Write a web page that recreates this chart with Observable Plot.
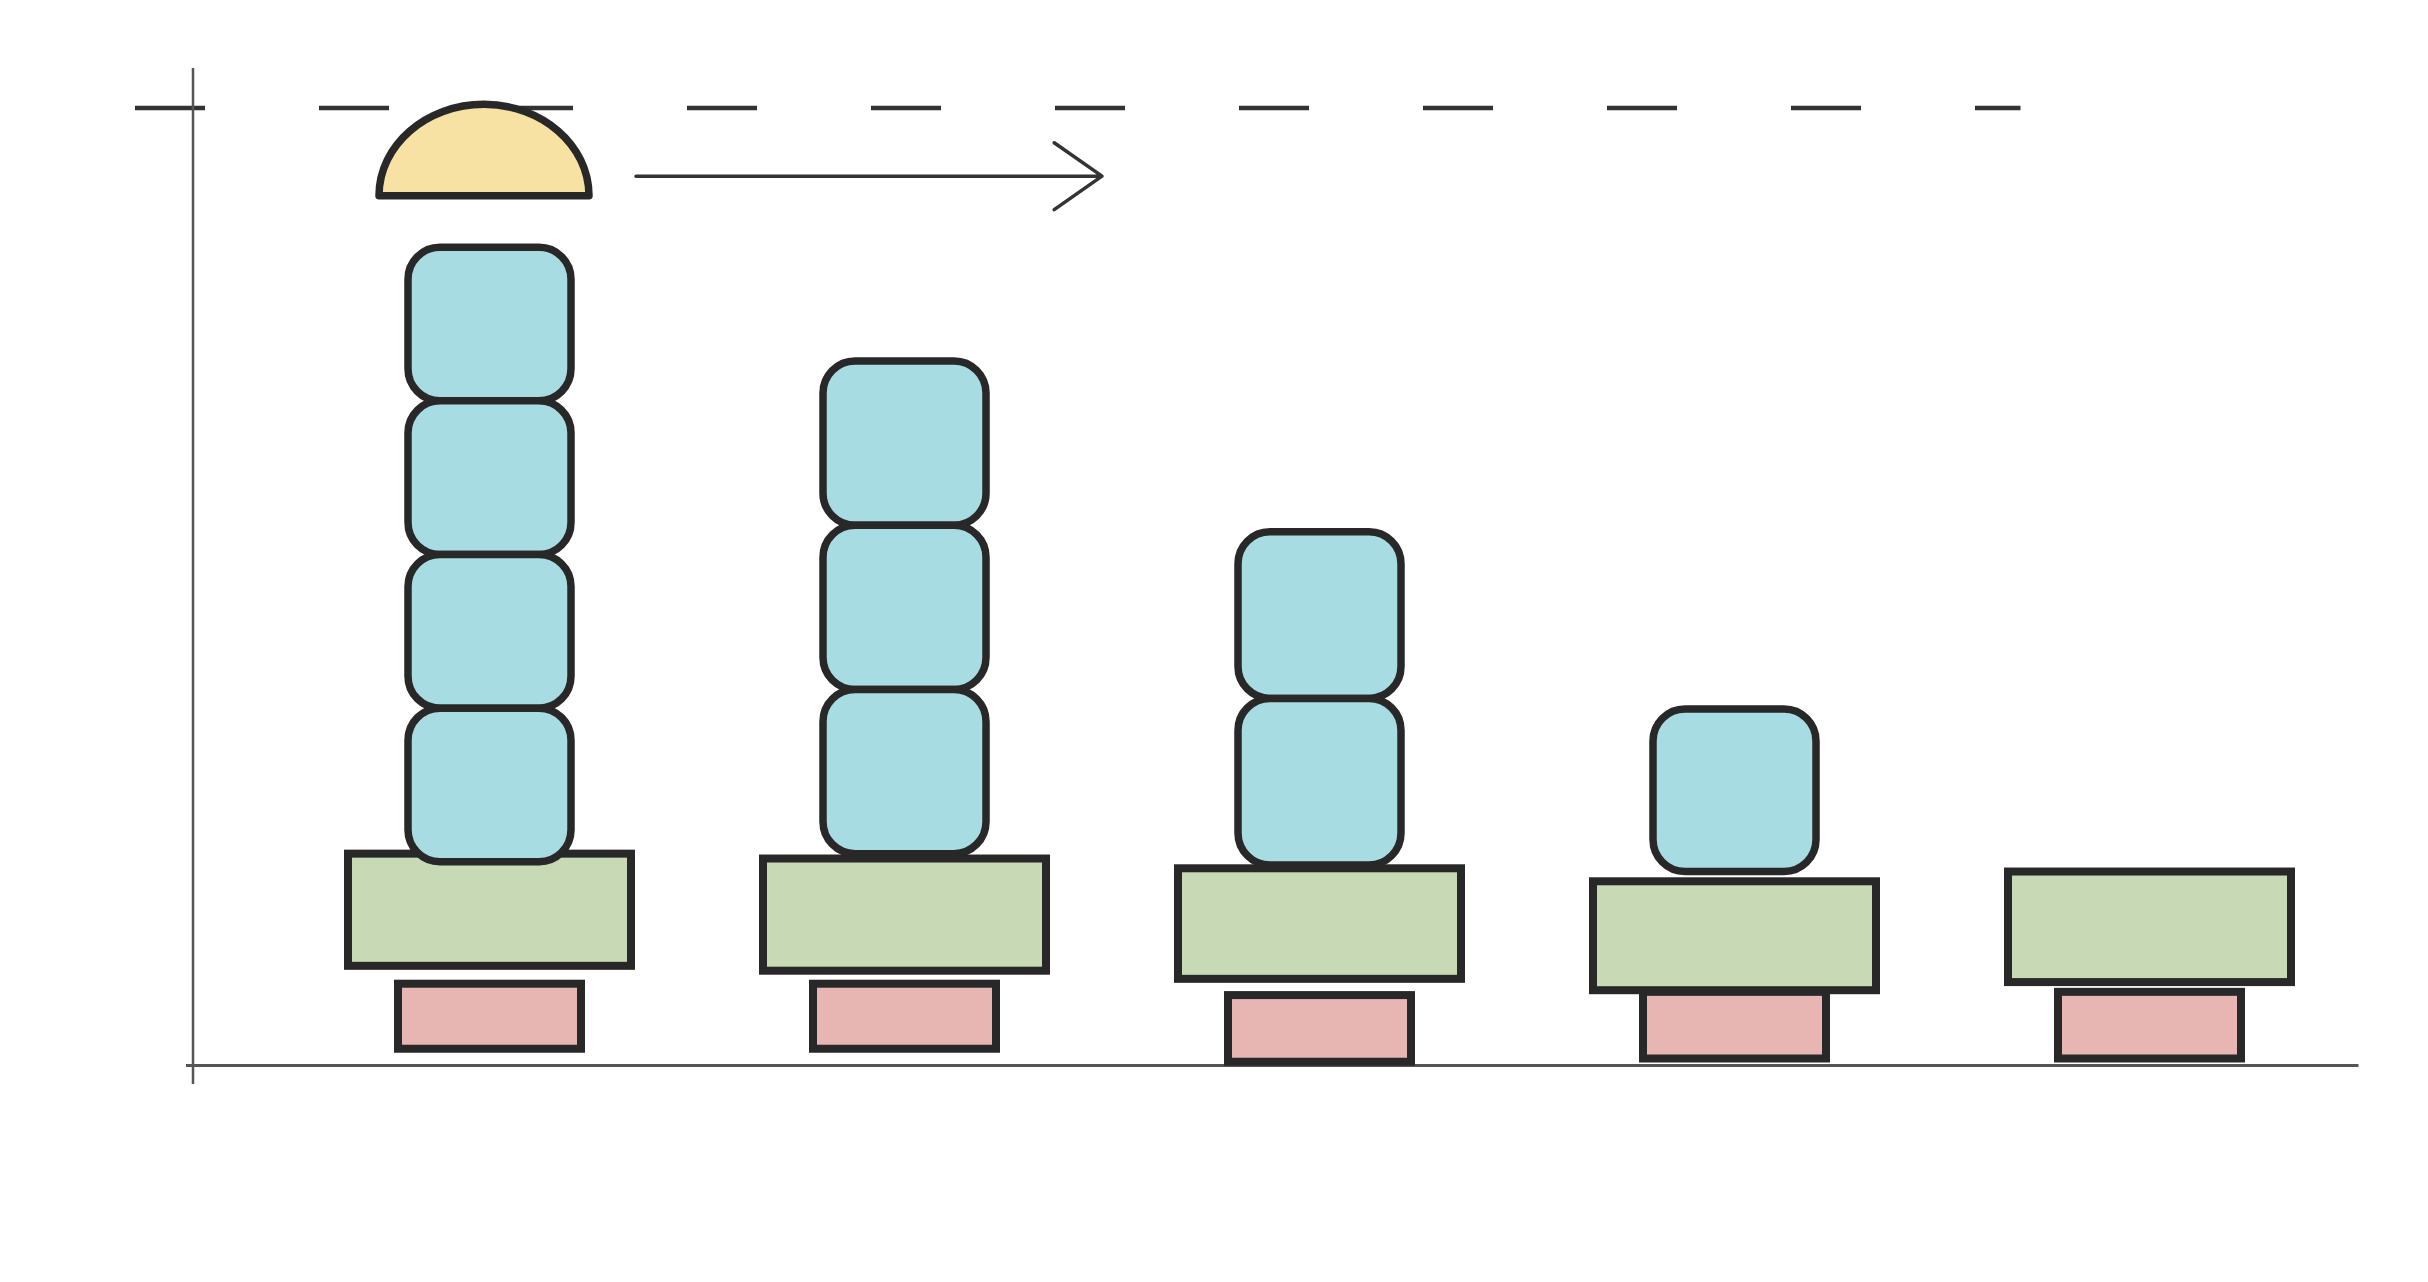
<!DOCTYPE html>
<html>
<head>
<meta charset="utf-8">
<script src="https://cdn.jsdelivr.net/npm/d3@7"></script>
<script src="https://cdn.jsdelivr.net/npm/@observablehq/plot@0.6"></script>
<style>
  html, body { margin: 0; padding: 0; background: #ffffff; overflow: hidden; }
  #chart svg { display: block; }
</style>
</head>
<body>
<div id="chart"></div>
<script>
// ---- data (in "block" units above the baseline) ----
const categories = ["1", "2", "3", "4", "5"];
const pinkLow   = [0.10, 0.10, 0.02, 0.04, 0.04];
const pinkHigh  = [0.50, 0.50, 0.43, 0.45, 0.45];
const greenLow  = [0.61, 0.58, 0.53, 0.46, 0.51];
const greenHigh = [1.30, 1.27, 1.21, 1.13, 1.19];
const blueCount = [4, 3, 2, 1, 0];
const blueLow   = [1.25, 1.30, 1.23, 1.19, 0];
const blueHigh  = [5.03, 4.33, 3.28, 2.19, 0];
const targetLevel = [5.89];
const crownCategory = ["1"];
const crownLevel = [5.35];
const arrowFrom = ["1"];
const arrowTo = ["2"];
const arrowLevel = [5.47];

// ---- tables built from the arrays ----
const pinkRows = categories.map((c, k) => ({c, y1: pinkLow[k], y2: pinkHigh[k]}));
const greenRows = categories.map((c, k) => ({c, y1: greenLow[k], y2: greenHigh[k]}));
const blocks = categories.flatMap((c, k) => {
  const n = blueCount[k];
  const h = n ? (blueHigh[k] - blueLow[k]) / n : 0;
  return d3.range(n).map(i => ({c, y1: blueLow[k] + i * h, y2: blueLow[k] + (i + 1) * h}));
}).reverse();
const crown = crownCategory.map((c, k) => ({c, y: crownLevel[k]}));
const arrows = arrowFrom.map((c, k) => ({a: c, b: arrowTo[k], y: arrowLevel[k]}));

const ink = "#282828";
const dome = {
  draw(ctx, size) {
    const w = Math.sqrt(size / Math.PI), h = w * 0.87, k = 0.5523;
    ctx.moveTo(-w, 0);
    ctx.bezierCurveTo(-w, -k * h, -k * w, -h, 0, -h);
    ctx.bezierCurveTo(k * w, -h, w, -k * h, w, 0);
    ctx.closePath();
  }
};

const chart = Plot.plot({
  width: 2428,
  height: 1282,
  marginLeft: 281,
  marginRight: 69.5,
  marginTop: 57,
  marginBottom: 217,
  style: {background: "#ffffff"},
  x: {domain: categories, axis: null, padding: 0},
  y: {domain: [0, 6.2], axis: null},
  marks: [
    Plot.ruleY(targetLevel, {stroke: "#333", strokeWidth: 4.5, strokeDasharray: "70,114", insetLeft: -146, insetRight: 338}),
    Plot.ruleX([categories[0]], {dx: -297, insetTop: 11, insetBottom: -19, stroke: "#555", strokeWidth: 2.5}),
    Plot.ruleY([0], {insetLeft: -95, insetRight: 0, stroke: "#555", strokeWidth: 3}),
    Plot.barY(greenRows, {x: "c", y1: "y1", y2: "y2", fill: "#c8d9b5", stroke: ink, strokeWidth: 8, insetLeft: 66, insetRight: 66}),
    Plot.barY(pinkRows, {x: "c", y1: "y1", y2: "y2", fill: "#e7b6b3", stroke: ink, strokeWidth: 8, insetLeft: 116, insetRight: 116}),
    Plot.barY(blocks, {x: "c", y1: "y1", y2: "y2", fill: "#a8dce3", stroke: ink, strokeWidth: 7.5, insetLeft: 126, insetRight: 126, rx: 32}),
    Plot.dot(crown, {x: "c", y: "y", dx: -6, r: 105, symbol: dome, fill: "#f7e2a3", stroke: ink, strokeWidth: 7.5, strokeLinejoin: "round"}),
    Plot.arrow(arrows, {x1: "a", y1: "y", x2: "b", y2: "y", insetStart: 146, insetEnd: -197, headLength: 25, headAngle: 70, stroke: "#333", strokeWidth: 3.5})
  ]
});
document.getElementById("chart").appendChild(chart);
</script>
</body>
</html>
